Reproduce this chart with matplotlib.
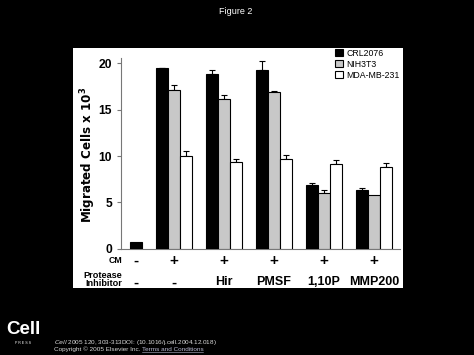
import matplotlib
matplotlib.use("Agg")
import matplotlib.pyplot as plt
from matplotlib.patches import Rectangle
from matplotlib.lines import Line2D
from matplotlib.transforms import blended_transform_factory
import numpy as np

plt.rcParams['font.family'] = ['Liberation Sans', 'DejaVu Sans']

# ---- data ----
series = ["CRL2076", "NIH3T3", "MDA-MB-231"]
cm_labels = ["-", "+", "+", "+", "+", "+"]
inhibitor_labels = ["-", "-", "Hir", "PMSF", "1,10P", "MMP200"]
crl2076 = [0.7, 19.5, 18.8, 19.3, 6.9, 6.3]
crl2076_err = [0.0, 0.05, 0.5, 0.9, 0.2, 0.25]
nih3t3 = [17.1, 16.2, 16.9, 6.0, 5.75]          # groups 2-6
nih3t3_err = [0.6, 0.4, 0.15, 0.35, 0.0]
mda = [10.0, 9.35, 9.7, 9.15, 8.8]              # groups 2-6
mda_err = [0.5, 0.35, 0.4, 0.45, 0.5]
y_ticks = [0, 5, 10, 15, 20]

W, H = 474, 355
fig = plt.figure(figsize=(W / 100, H / 100), dpi=100, facecolor='black')

def fx(px):
    return px / W

def fy(py):
    return 1 - py / H

# white panel
fig.patches.append(Rectangle((fx(73), fy(288)), fx(403) - fx(73), fy(48) - fy(288),
                             transform=fig.transFigure, facecolor='white',
                             edgecolor='none', zorder=-10))

ax = fig.add_axes([fx(121), fy(248.7), fx(400) - fx(121), fy(57.5) - fy(248.7)])
ax.set_zorder(1)
ax.set_facecolor('none')
ax.set_xlim(-0.06, 5.52)
ax.set_ylim(0, 20.63)

w = 0.24
centers = np.array([0.23, 1, 2, 3, 4, 5])
black_x = np.concatenate([[centers[0]], centers[1:] - w])
gray_x = centers[1:]
white_x = centers[1:] + w

colors = ['black', '#c8c8c8', 'white']
b1 = ax.bar(black_x, crl2076, w, color=colors[0], edgecolor='black', linewidth=0.8, label=series[0], zorder=3)
b2 = ax.bar(gray_x, nih3t3, w, color=colors[1], edgecolor='black', linewidth=0.8, label=series[1], zorder=3)
b3 = ax.bar(white_x, mda, w, color=colors[2], edgecolor='black', linewidth=0.8, label=series[2], zorder=3)

for xs, ys, es in [(black_x, crl2076, crl2076_err), (gray_x, nih3t3, nih3t3_err), (white_x, mda, mda_err)]:
    xs = np.asarray(xs); ys = np.asarray(ys); es = np.asarray(es)
    m = es > 0
    ax.errorbar(xs[m], ys[m], yerr=[np.zeros(m.sum()), es[m]], fmt='none', ecolor='black',
                elinewidth=0.8, capsize=2.5, capthick=0.8, zorder=2)

for s in ['top', 'right']:
    ax.spines[s].set_visible(False)
for s in ['left', 'bottom']:
    ax.spines[s].set_color('#777777')
    ax.spines[s].set_linewidth(0.8)
ax.set_xticks([])
ax.set_yticks(y_ticks)
ax.set_yticklabels([str(t) for t in y_ticks], fontsize=8.7, fontweight='bold')
ax.tick_params(axis='y', direction='out', length=3, width=0.8, color='#777777', pad=3.5)
ax.set_ylabel("Migrated Cells x 10$^{\\mathbf{3}}$", fontsize=8.6, fontweight='bold',
              family='DejaVu Sans', va='center', ha='center')
ax.yaxis.set_label_coords((88 - 121) / (400 - 121), (248.7 - 154.5) / (248.7 - 57.5))

# x-axis rows
tr = blended_transform_factory(ax.transData, fig.transFigure)
for c, lab in zip(centers, cm_labels):
    ax.text(c, fy(260.5), lab, transform=tr, ha='center', va='center',
            fontsize=11, fontweight='bold', color='black', clip_on=False)
for c, lab in zip(centers, inhibitor_labels):
    ax.text(c, fy(282.3), lab, transform=tr, ha='center', va='center',
            fontsize=9 if lab != '-' else 11, fontweight='bold', color='black', clip_on=False)
fig.text(fx(122), fy(260.7), "CM", ha='right', va='center', fontsize=6.3, fontweight='bold')
fig.text(fx(122), fy(275), "Protease", ha='right', va='center', fontsize=6.6, fontweight='bold')
fig.text(fx(122), fy(284), "Inhibitor", ha='right', va='center', fontsize=6.6, fontweight='bold')

# legend
leg = ax.legend(handles=[b1, b2, b3], labels=series, loc='upper left',
                bbox_to_anchor=(fx(335), fy(48.5)), bbox_transform=fig.transFigure,
                frameon=False, fontsize=6.3, handlelength=0.91, handleheight=0.91,
                handletextpad=0.39, labelspacing=0.23, borderpad=0, borderaxespad=0)

# title & footer
fig.text(fx(235.5), fy(12), "Figure 2", ha='center', va='center', fontsize=6.5, color='white')
fig.text(fx(23), fy(330), "Cell", ha='center', va='center', fontsize=13.5, fontweight='bold', color='white')
fig.text(fx(23), fy(343), "P R E S S", ha='center', va='center', fontsize=2.6, color='white')
fig.text(fx(53.5), fy(342.3), "$\\mathit{Cell}$ 2005 120, 303-313DOI: (10.1016/j.cell.2004.12.018)",
         ha='left', va='center', fontsize=4.6, color='#d8d8d8')
t2 = fig.text(fx(53.5), fy(349.3), "Copyright \u00a9 2005 Elsevier Inc. ", ha='left', va='center',
              fontsize=4.6, color='#d8d8d8')
fig.canvas.draw()
bb = t2.get_window_extent()
t3 = fig.text(bb.x1 / W, fy(349.3), "Terms and Conditions", ha='left', va='center',
              fontsize=4.6, color='#b8b8d0')
fig.canvas.draw()
bb3 = t3.get_window_extent()
fig.add_artist(Line2D([bb3.x0 / W, bb3.x1 / W], [fy(352), fy(352)], transform=fig.transFigure,
                      color='#b8b8d0', linewidth=0.4))

fig.savefig("out.png", dpi=100, facecolor='black')
